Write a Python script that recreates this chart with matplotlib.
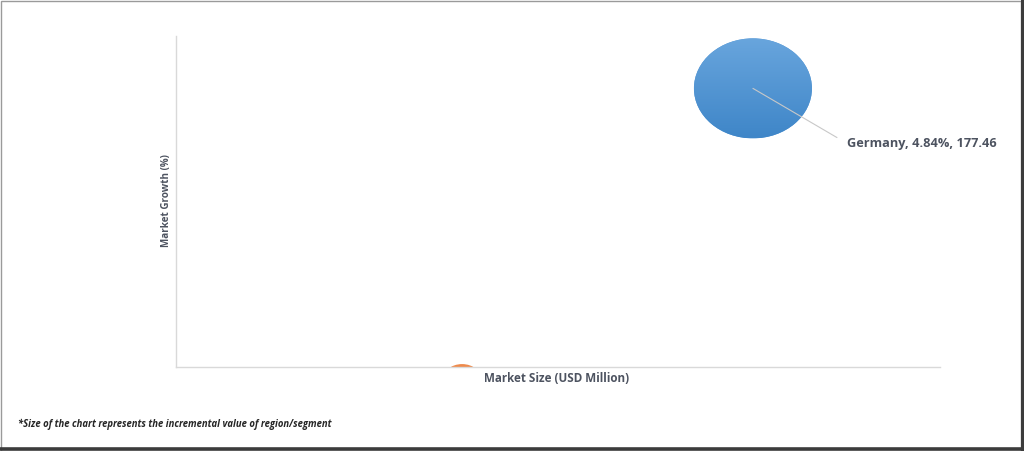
import numpy as np
import matplotlib
matplotlib.use("Agg")
import matplotlib.pyplot as plt
from matplotlib.patches import Ellipse, Rectangle

# bubble data
regions = ["Germany", "Other"]
market_size = [177.46, 88.0]        # USD Million
market_growth = [4.84, -0.25]       # %
increment = [100.0, 12.0]           # incremental value (bubble size)
colors = ["#5597d6", "#ee8a4c"]
label_text = "Germany, 4.84%, 177.46"
xlabel = "Market Size (USD Million)"
ylabel = "Market Growth (%)"
footnote = "*Size of the chart represents the incremental value of region/segment"

plt.rcParams['font.family'] = ['Open Sans', 'DejaVu Sans']
txt_col = "#4d5360"

fig = plt.figure(figsize=(10.24, 4.51), dpi=100)
ax = fig.add_axes([176/1024, 1-367/451, 764/1024, 331/451])
ax.set_xlim(0, 235)
ax.set_ylim(0, 5.75)
ax.set_xticks([])
ax.set_yticks([])
for s in ['top', 'right']:
    ax.spines[s].set_visible(False)
for s in ['left', 'bottom']:
    ax.spines[s].set_color('#d9d9d9')
    ax.spines[s].set_linewidth(1.0)

# bubble size in pixels: diameter ~ sqrt(increment), stretched horizontally
px_scale = 11.8
aspect = 100 / 118
inv = ax.transData.inverted()
for i in range(len(regions)):
    dw = px_scale * np.sqrt(increment[i])
    dh = dw * aspect
    cx, cy = ax.transData.transform((market_size[i], market_growth[i]))
    x0, y0 = inv.transform((cx - dw/2, cy - dh/2))
    x1, y1 = inv.transform((cx + dw/2, cy + dh/2))
    ell = Ellipse((market_size[i], market_growth[i]), x1 - x0, y1 - y0,
                  facecolor=colors[i], edgecolor='none', zorder=2)
    ax.add_patch(ell)
    if i == 0:
        # light top, darker bottom, like the original
        grad = np.linspace(0, 1, 100).reshape(-1, 1)
        cmap = matplotlib.colors.LinearSegmentedColormap.from_list(
            'b', ['#68a5dd', '#3f86c8'])
        im = ax.imshow(grad, cmap=cmap, extent=[x0, x1, y0, y1],
                       aspect='auto', zorder=3, interpolation='bicubic')
        im.set_clip_path(ell)
ax.set_xlim(0, 235)
ax.set_ylim(0, 5.75)

ax.annotate(label_text, xy=(market_size[0], market_growth[0]),
            xytext=(94, -55), textcoords='offset pixels',
            ha='left', va='center', fontsize=9.2, fontweight='bold',
            color=txt_col,
            arrowprops=dict(arrowstyle='-', color='#c8c8c8', lw=0.8,
                            relpos=(0, 0.5), shrinkA=6, shrinkB=0),
            zorder=5)

fig.text(557/1024, 1-378/451, xlabel, ha='center', va='center',
         fontsize=8.35, fontweight='bold', color=txt_col)
fig.text(166/1024, 1-201/451, ylabel, ha='center', va='center',
         rotation=90, fontsize=7.1, fontweight='bold', color=txt_col)
fig.text(18/1024, 1-424/451, footnote, ha='left', va='center',
         fontsize=6.85, fontstyle='italic', fontweight='bold', color='#262626')

# slide frame
fig.add_artist(Rectangle((0.5/1024, 0), 1020/1024, 1 - 0.5/451,
                         transform=fig.transFigure, fill=False,
                         edgecolor='#9a9a9a', lw=1.0))
fig.add_artist(plt.Line2D([1021.5/1024]*2, [0, 1], transform=fig.transFigure,
                          color='#3c3c3c', lw=2.2))
fig.add_artist(plt.Line2D([0, 1], [1.8/451]*2, transform=fig.transFigure,
                          color='#3c3c3c', lw=2.6))

fig.savefig("out.png", dpi=100)
